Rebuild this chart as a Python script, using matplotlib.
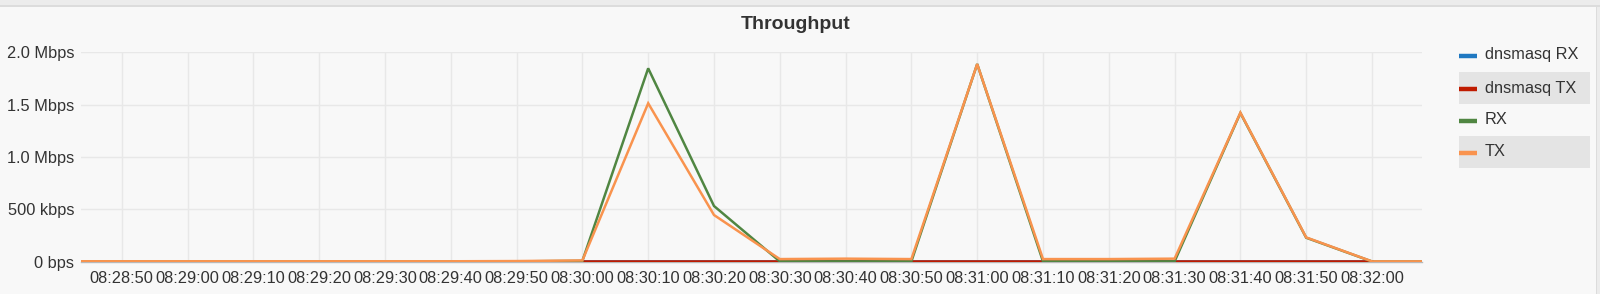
import matplotlib
matplotlib.use("Agg")
import matplotlib.pyplot as plt
import matplotlib.dates as mdates
from matplotlib.patches import Rectangle
from matplotlib.lines import Line2D
import numpy as np

plt.rcParams['font.family'] = ['Liberation Sans', 'DejaVu Sans']

# ---- data ----
times = np.arange(np.datetime64('2024-01-01T08:28:40'),
                  np.datetime64('2024-01-01T08:32:20'),
                  np.timedelta64(10, 's'))
# Mbps, one value per 10 s starting 08:28:40
rx_mbps = [0.003, 0.003, 0.003, 0.003, 0.003, 0.003, 0.003, 0.003, 0.008,
           1.847, 0.532, 0.003, 0.003, 0.003, 1.888, 0.003, 0.003, 0.003, 1.42,
           0.229, 0.002, 0.002]
tx_mbps = [0.004, 0.004, 0.004, 0.004, 0.004, 0.004, 0.004, 0.006, 0.012,
           1.513, 0.446, 0.025, 0.029, 0.025, 1.888, 0.025, 0.025, 0.029, 1.423,
           0.232, 0.003, 0.003]
dns_times = np.arange(np.datetime64('2024-01-01T08:30:00'),
                      np.datetime64('2024-01-01T08:32:10'),
                      np.timedelta64(10, 's'))
dns_rx_mbps = [0.002] * 13
dns_tx_mbps = [0.006] * 13

series_names = ['dnsmasq RX', 'dnsmasq TX', 'RX', 'TX']
series_colors = ['#1F78C1', '#BF1B00', '#508642', '#F9934E']

ytick_values = [0, 500000, 1000000, 1500000, 2000000]
ytick_labels = ['0 bps', '500 kbps', '1.0 Mbps', '1.5 Mbps', '2.0 Mbps']
title = 'Throughput'

# ---- figure ----
W, H = 1600, 294
bg = '#f8f8f8'
fig = plt.figure(figsize=(W / 100, H / 100), dpi=100, facecolor=bg)

def fx(px):
    return px / W

def fy(py):
    return 1 - py / H

# top band & right border
fig.patches.append(Rectangle((0, fy(5)), 1, 5 / H, transform=fig.transFigure,
                             facecolor='#ececec', edgecolor='none', zorder=0))
fig.patches.append(Rectangle((0, fy(6.5)), 1, 1.5 / H, transform=fig.transFigure,
                             facecolor='#dcdcdc', edgecolor='none', zorder=0))
fig.patches.append(Rectangle((fx(1596), 0), 4 / W, fy(6.5), transform=fig.transFigure,
                             facecolor='#ececec', edgecolor='none', zorder=0))
fig.patches.append(Rectangle((fx(1596), 0), 1 / W, fy(6.5), transform=fig.transFigure,
                             facecolor='#dcdcdc', edgecolor='none', zorder=0))

left, right, top, bottom = 81, 1422, 52.3, 261.7
ax = fig.add_axes([fx(left), fy(bottom), fx(right - left), (bottom - top) / H])
ax.set_facecolor(bg)

data_x = [dns_times, dns_times, times, times]
data_y = [dns_rx_mbps, dns_tx_mbps, rx_mbps, tx_mbps]
for i, (xx, yy) in enumerate(zip(data_x, data_y)):
    ax.plot(xx, np.array(yy) * 1e6, color=series_colors[i], lw=1.8,
            solid_joinstyle='miter', zorder=3 + i, clip_on=True)

ax.set_xlim(np.datetime64('2024-01-01T08:28:43.8'),
            np.datetime64('2024-01-01T08:32:07.6'))
ax.set_ylim(0, 2000000)
ax.set_yticks(ytick_values)
ax.set_yticklabels(ytick_labels)
ax.xaxis.set_major_locator(mdates.SecondLocator(bysecond=range(0, 60, 10)))
ax.xaxis.set_major_formatter(mdates.DateFormatter('%H:%M:%S'))

ax.grid(True, color='#e8e8e8', lw=1.0, zorder=0)
ax.set_axisbelow(True)
for s in ['top', 'right', 'left']:
    ax.spines[s].set_visible(False)
ax.spines['bottom'].set_color('#b8b8b8')
ax.spines['bottom'].set_linewidth(1.0)
ax.spines['bottom'].set_zorder(2)
ax.tick_params(axis='both', length=0, colors='#333333', labelsize=11.8)
ax.tick_params(axis='y', pad=5)
ax.tick_params(axis='x', pad=7)

# title
fig.text(fx(796), fy(29), title, ha='center', va='baseline', fontsize=14,
         fontweight='bold', color='#333333')

# legend
row_centers = [55, 88, 120, 152]
for i, name in enumerate(series_names):
    yc = row_centers[i]
    if i % 2 == 1:
        fig.patches.append(Rectangle((fx(1459), fy(yc + 16)), fx(131), 32 / H,
                                     transform=fig.transFigure,
                                     facecolor='#e4e4e4', edgecolor='none', zorder=1))
    fig.lines.append(Line2D([fx(1459), fx(1477)], [fy(yc + 1), fy(yc + 1)],
                            transform=fig.transFigure, color=series_colors[i],
                            lw=3.2, solid_capstyle='butt', zorder=2))
    fig.text(fx(1485), fy(yc), name, ha='left', va='center', fontsize=11.8,
             color='#333333', zorder=3)

fig.savefig('out.png', dpi=100, facecolor=bg)
